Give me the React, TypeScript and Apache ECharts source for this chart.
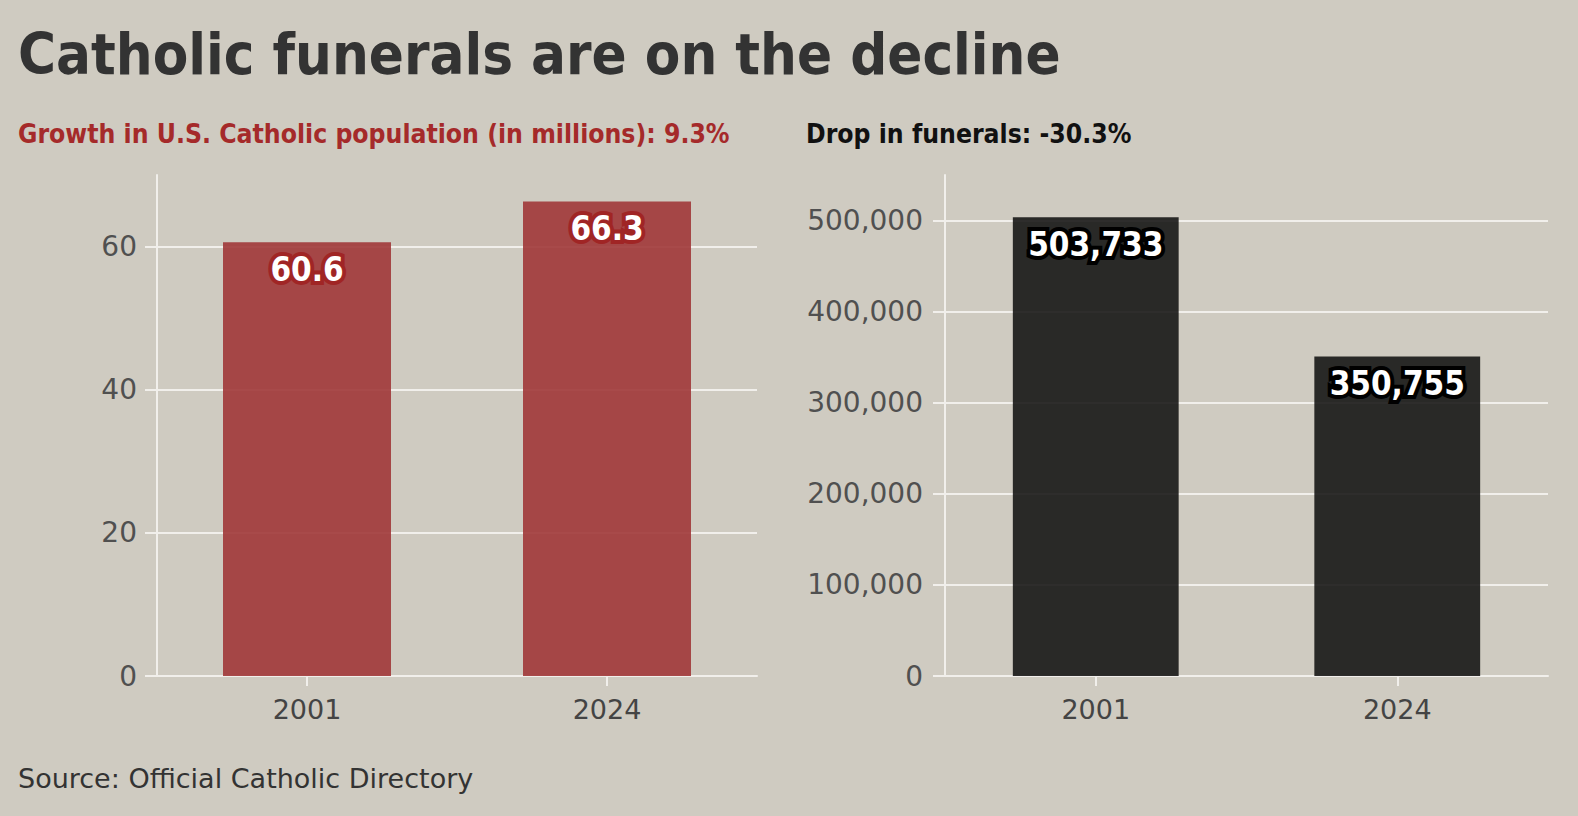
import React, { useEffect, useRef } from "react";
import * as echarts from "echarts";

const titleText = "Catholic funerals are on the decline";
const leftSubtitle = "Growth in U.S. Catholic population (in millions): 9.3%";
const rightSubtitle = "Drop in funerals: -30.3%";
const sourceText = "Source: Official Catholic Directory";

const years = ["2001", "2024"];
const population = [60.6, 66.3];
const funerals = [503733, 350755];
const popTicks = [0, 20, 40, 60];
const funeralTicks = [0, 100000, 200000, 300000, 400000, 500000];

const COND = "'DejaVu Sans Condensed', 'Liberation Sans Narrow', Roboto, sans-serif";
const SANS = "'DejaVu Sans', Roboto, sans-serif";
const BG = "#cfcbc1";
const GRID = "#f1efeb";
const RED = "rgba(160,55,56,0.9)";
const DARK = "rgba(18,18,17,0.88)";

function fmt(v: number) {
  return v.toLocaleString("en-US");
}

export default function App() {
  const ref = useRef<HTMLDivElement>(null);
  useEffect(() => {
    document.body.style.margin = "0";
    if (!ref.current) return;
    const chart = echarts.init(ref.current, undefined, { renderer: "svg" });
    const yAxisCommon = (gridIndex: number, max: number, interval: number, ticks: number[], margin: number, nLines: number) => ({
      type: "value",
      gridIndex,
      min: 0,
      max,
      interval,
      axisLine: { show: true, lineStyle: { color: GRID, width: 2 } },
      axisTick: { show: true, length: 12, customValues: ticks, lineStyle: { color: GRID, width: 2 } },
      axisLabel: {
        color: "#505050",
        fontSize: 28,
        fontFamily: SANS,
        margin,
        customValues: ticks,
        formatter: (v: number) => fmt(v),
      },
      splitLine: {
        show: true,
        lineStyle: {
          color: [...Array(nLines).fill(GRID), "rgba(0,0,0,0)"],
          width: 2,
        },
      },
    });
    const xAxisCommon = (gridIndex: number) => ({
      type: "category",
      gridIndex,
      data: years,
      axisLine: { show: true, lineStyle: { color: GRID, width: 2 } },
      axisTick: { show: true, alignWithLabel: true, length: 10, lineStyle: { color: GRID, width: 2 } },
      axisLabel: { color: "#444444", fontSize: 27, fontFamily: SANS, margin: 20 },
    });

    const labelCommon = {
      show: true,
      position: "insideTop",
      distance: 11,
      color: "#ffffff",
      opacity: 1,
      fontSize: 33,
      fontWeight: "bold",
      fontFamily: COND,
      textBorderWidth: 8,
    };

    const option: any = {
      animation: false,
      backgroundColor: BG,
      textStyle: { fontFamily: COND },
      grid: [
        { left: 157, right: 821, top: 175, bottom: 140 },
        { left: 945, right: 30, top: 175, bottom: 140 },
      ],
      xAxis: [xAxisCommon(0), xAxisCommon(1)],
      yAxis: [
        yAxisCommon(0, 70, 20, popTicks, 20, popTicks.length),
        yAxisCommon(1, 550000, 100000, funeralTicks, 22, funeralTicks.length),
      ],
      series: [
        {
          type: "bar",
          xAxisIndex: 0,
          yAxisIndex: 0,
          data: population,
          barWidth: "56%",
          itemStyle: { color: RED },
          label: {
            ...labelCommon,
            textBorderColor: "#a02525",
            formatter: (p: any) => String(p.value),
          },
        },
        {
          type: "bar",
          xAxisIndex: 1,
          yAxisIndex: 1,
          data: funerals,
          barWidth: "55%",
          itemStyle: { color: DARK },
          label: {
            ...labelCommon,
            textBorderColor: "#000000",
            formatter: (p: any) => fmt(p.value),
          },
        },
      ],
      graphic: [
        {
          type: "text",
          left: 18,
          top: 25,
          style: { text: titleText, fill: "#333333", font: `bold 57.6px ${COND}` },
        },
        {
          type: "text",
          left: 18,
          top: 121,
          style: { text: leftSubtitle, fill: "#a52a2a", font: `bold 26.3px ${COND}` },
        },
        {
          type: "text",
          left: 806,
          top: 121,
          style: { text: rightSubtitle, fill: "#111111", font: `bold 26.3px ${COND}` },
        },
        {
          type: "text",
          left: 18,
          top: 765,
          style: { text: sourceText, fill: "#333333", font: `27px ${SANS}` },
        },
      ],
    };
    chart.setOption(option);
    return () => chart.dispose();
  }, []);
  return <div ref={ref} style={{ width: 1578, height: 816 }} />;
}
